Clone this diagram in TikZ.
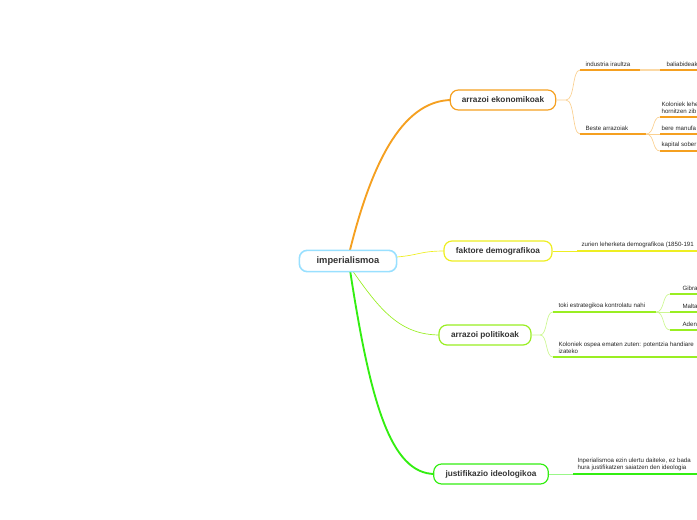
\documentclass[tikz,border=0pt]{standalone}
\usepackage{fontspec}
\setmainfont{Liberation Sans}
\begin{document}
\begin{tikzpicture}[x=0.75pt,y=-0.75pt,
  box/.style={draw,rounded corners=6pt,line width=0.9pt,fill=white,minimum height=15pt,font=\fontsize{6.2}{7}\selectfont\bfseries,text=black!80},
  lab/.style={anchor=south west,inner sep=1pt,font=\fontsize{4.6}{5.3}\selectfont,align=left,text=black!85},
  br/.style={line width=1.4pt},
  ln/.style={line width=0.5pt}]
\useasboundingbox (0,0) rectangle (697,520);
\clip (0,0) rectangle (697,520);
\definecolor{co}{HTML}{F5A020}\definecolor{cy}{HTML}{EEEE22}
\definecolor{cp}{HTML}{99EE22}\definecolor{cj}{HTML}{33EE11}
% branches
\draw[co,br] (350,250) .. controls (370,170) and (400,100) .. (452,100);
\draw[cy,ln] (397,257) .. controls (420,255) and (420,251) .. (445,251);
\draw[cp,ln] (352,270) .. controls (380,310) and (400,335) .. (440,335);
\draw[cj,br] (350,270) .. controls (370,400) and (390,474) .. (435,474);
\node[box,draw=blue!30!cyan!40,line width=1.2pt,minimum width=73pt,minimum height=16pt,font=\fontsize{7}{8}\selectfont\bfseries] (c) at (348,261) {imperialismoa};
\node[box,draw=co,minimum width=79pt] (a) at (503,100) {arrazoi ekonomikoak};
\node[box,draw=cy,minimum width=81pt] (f) at (498,251) {faktore demografikoa};
\node[box,draw=cp,minimum width=69pt] (p) at (485,335) {arrazoi politikoak};
\node[box,draw=cj,minimum width=86pt] (j) at (491,474) {justifikazio ideologikoa};
% economic
\draw[co!50,ln] (a.east) -- (566,100) .. controls (575,100) and (572,70) .. (580,70);
\draw[co!50,ln] (566,100) .. controls (575,100) and (572,134) .. (580,134);
\draw[co,line width=1pt] (580,70) -- (640,70); \draw[co!40,line width=1pt] (640,70)--(660,70); \draw[co,line width=1pt] (660,70)--(697,70);
\node[lab] (i1) at (584,68) {industria iraultza};
\node[lab] (i2) at (665,68) {baliabideak};
\draw[co,line width=1pt] (580,134) -- (646,134);
\node[lab] (b1) at (584,132) {Beste arrazoiak};
\draw[co!50,ln] (646,134) .. controls (655,134) and (652,117) .. (660,117);
\draw[co!50,ln] (646,134) -- (660,134);
\draw[co!50,ln] (646,134) .. controls (655,134) and (652,151) .. (660,151);
\draw[co,line width=1pt] (660,117)--(697,117) (660,134)--(697,134) (660,151)--(697,151);
\node[lab] at (660,115) {Koloniek lehe\\hornitzen zib};
\node[lab] at (660,132) {bere manufa};
\node[lab] at (660,149) {kapital sober};
% demographic
\draw[cy,line width=0.5pt] (f.east) -- (577,251);
\draw[cy,line width=1pt] (577,251)--(697,251);
\node[lab] at (580,249) {zurien leherketa demografikoa (1850-191};
% political
\draw[cp!50,ln] (p.east) -- (540,335) .. controls (548,335) and (545,312) .. (553,312);
\draw[cp!50,ln] (540,335) .. controls (548,335) and (545,357) .. (553,357);
\draw[cp,line width=1pt] (553,312)--(656,312) (553,357)--(697,357);
\node[lab] at (557,310) {toki estrategikoa kontrolatu nahi};
\node[lab] at (557,355) {Koloniek ospea ematen zuten: potentzia handiare\\izateko};
\draw[cp!50,ln] (656,312) .. controls (665,312) and (662,294) .. (670,294);
\draw[cp!50,ln] (656,312) -- (670,312);
\draw[cp!50,ln] (656,312) .. controls (665,312) and (662,330) .. (670,330);
\draw[cp,line width=1pt] (670,294)--(697,294) (670,312)--(697,312) (670,330)--(697,330);
\node[lab] at (681,292) {Gibra};
\node[lab] at (681,310) {Malta};
\node[lab] at (681,328) {Aden};
% justification
\draw[cj!50,ln] (j.east) -- (573,474);
\draw[cj,line width=1pt] (573,474)--(697,474);
\node[lab] at (576,472) {Inperialismoa ezin ulertu daiteke, ez bada\\hura justifikatzen saiatzen den ideologia};
\end{tikzpicture}
\end{document}
